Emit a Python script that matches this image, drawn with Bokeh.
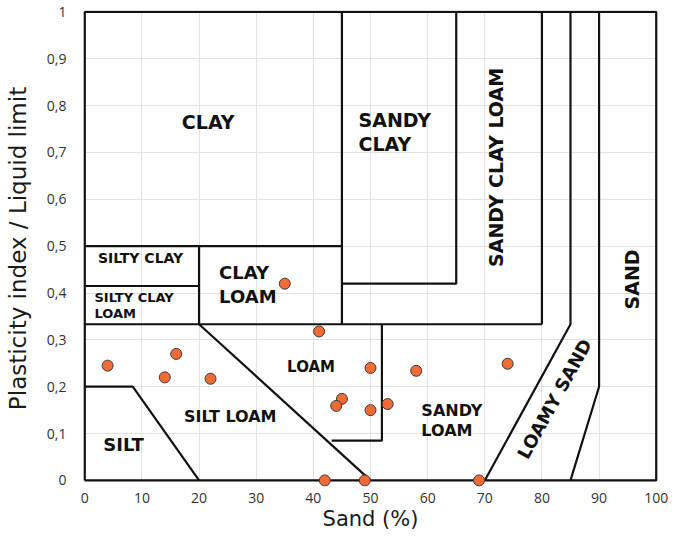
from bokeh.plotting import figure
from bokeh.models import Range1d, FixedTicker, CustomJSTickFormatter, ColumnDataSource
from bokeh.core.properties import value
from bokeh.embed import file_html
from bokeh.resources import INLINE

# ---- data: samples (sand %, plasticity index / liquid limit) ----
sand_pct = [4, 16, 14, 22, 35, 41, 50, 45, 44, 50, 53, 58, 74, 42, 49, 69]
pi_ll = [0.245, 0.27, 0.22, 0.217, 0.42, 0.318, 0.24, 0.174, 0.159, 0.15,
         0.163, 0.234, 0.249, 0.0, 0.0, 0.0]

x_ticks = [0, 10, 20, 30, 40, 50, 60, 70, 80, 90, 100]
y_ticks = [0, 0.1, 0.2, 0.3, 0.4, 0.5, 0.6, 0.7, 0.8, 0.9, 1]

# ---- classification boundaries (sand %, PI/LL) ----
T = 1 / 3
boundary_xs = [
    [0, 100, 100, 0, 0],      # outer box
    [0, 45],                  # clay / silty clay, clay loam
    [45, 45],                 # clay | sandy clay
    [0, 80],                  # lower limit of clayey classes
    [45, 65, 65],             # sandy clay
    [80, 80],                 # sandy clay loam right side
    [85, 85, 70],             # loamy sand left limit
    [90, 90, 85],             # sand limit
    [20, 20],                 # silty clay | clay loam
    [0, 20],                  # silty clay / silty clay loam
    [0, 8.4, 20],             # silt
    [20, 50],                 # silt loam / loam
    [43.2, 52, 52],           # loam / sandy loam
]
boundary_ys = [
    [0, 0, 1, 1, 0],
    [0.5, 0.5],
    [1, T],
    [T, T],
    [0.42, 0.42, 1],
    [T, 1],
    [1, T, 0],
    [1, 0.2, 0],
    [T, 0.5],
    [0.415, 0.415],
    [0.2, 0.2, 0],
    [T, 0],
    [0.085, 0.085, T],
]

# ---- zone names ----
center_text = ["CLAY", "SANDY CLAY LOAM", "SAND", "SILTY CLAY", "LOAM",
               "SILT LOAM", "SILT", "LOAMY SAND"]
center_x = [21.6, 71.9, 95.7, 9.76, 39.6, 25.45, 6.79, 82.2]
center_y = [0.766, 0.668, 0.429, 0.474, 0.243, 0.137, 0.076, 0.174]
center_size = ["19px", "19px", "19px", "14px", "15px", "16px", "18px", "18px"]
center_angle = [0, 90, 90, 0, 0, 0, 0, 61]

left_text = ["SANDY", "CLAY", "CLAY", "LOAM", "SILTY CLAY", "LOAM", "SANDY", "LOAM"]
left_x = [47.9, 47.9, 23.5, 23.5, 1.7, 1.7, 58.9, 58.9]
left_y = [0.769, 0.719, 0.444, 0.393, 0.390, 0.356, 0.149, 0.106]
left_size = ["19px", "19px", "18px", "18px", "13px", "13px", "16px", "16px"]

p = figure(width=669, height=534, output_backend="svg", toolbar_location=None,
           x_range=Range1d(-0.4, 100.4), y_range=Range1d(-0.013, 1.003),
           min_border_left=82, min_border_right=11, min_border_top=10,
           min_border_bottom=48, background_fill_color="white",
           border_fill_color="white", outline_line_color=None)

p.xgrid.ticker = FixedTicker(ticks=x_ticks)
p.ygrid.ticker = FixedTicker(ticks=y_ticks)
p.xaxis.ticker = FixedTicker(ticks=x_ticks)
p.yaxis.ticker = FixedTicker(ticks=y_ticks)
p.grid.grid_line_color = "#e2e2e2"
p.grid.grid_line_width = 1
p.xgrid.cross_bounds = (0, 1)
p.ygrid.cross_bounds = (0, 100)

p.yaxis.formatter = CustomJSTickFormatter(code="""
if (Math.abs(tick - Math.round(tick)) < 1e-9) { return String(Math.round(tick)); }
return tick.toFixed(1).replace('.', ',');
""")

for ax in (p.xaxis[0], p.yaxis[0]):
    ax.axis_line_color = None
    ax.major_tick_line_color = None
    ax.minor_tick_line_color = None
    ax.major_label_text_font = "Open Sans"
    ax.major_label_text_font_size = "14px"
    ax.major_label_text_color = "#333333"
    ax.axis_label_text_font = "DejaVu Sans"
    ax.axis_label_text_font_style = "normal"
    ax.axis_label_text_color = "#1a1a1a"

p.xaxis.axis_label = "Sand (%)"
p.yaxis.axis_label = "Plasticity index / Liquid limit"
p.xaxis.axis_label_text_font_size = "21px"
p.yaxis.axis_label_text_font_size = "23px"
p.xaxis.major_label_standoff = 0
p.yaxis.major_label_standoff = 10
p.xaxis.axis_label_standoff = 1
p.yaxis.axis_label_standoff = 13

p.multi_line(xs=boundary_xs, ys=boundary_ys, line_color="#111111", line_width=2.2)

csrc = ColumnDataSource(dict(x=center_x, y=center_y, t=center_text,
                             s=center_size, a=center_angle))
p.text(x="x", y="y", text="t", source=csrc, text_font_size="s", angle="a",
       angle_units="deg", text_align="center", text_baseline="middle",
       text_font=value("DejaVu Sans"), text_font_style="bold", text_color="#111111")

lsrc = ColumnDataSource(dict(x=left_x, y=left_y, t=left_text, s=left_size))
p.text(x="x", y="y", text="t", source=lsrc, text_font_size="s",
       text_align="left", text_baseline="middle",
       text_font=value("DejaVu Sans"), text_font_style="bold", text_color="#111111")

p.scatter(sand_pct, pi_ll, marker="circle", size=11, fill_color="#F26B35",
          line_color="#3a3a3a", line_width=1)

open("out.html", "w").write(file_html(p, INLINE))
